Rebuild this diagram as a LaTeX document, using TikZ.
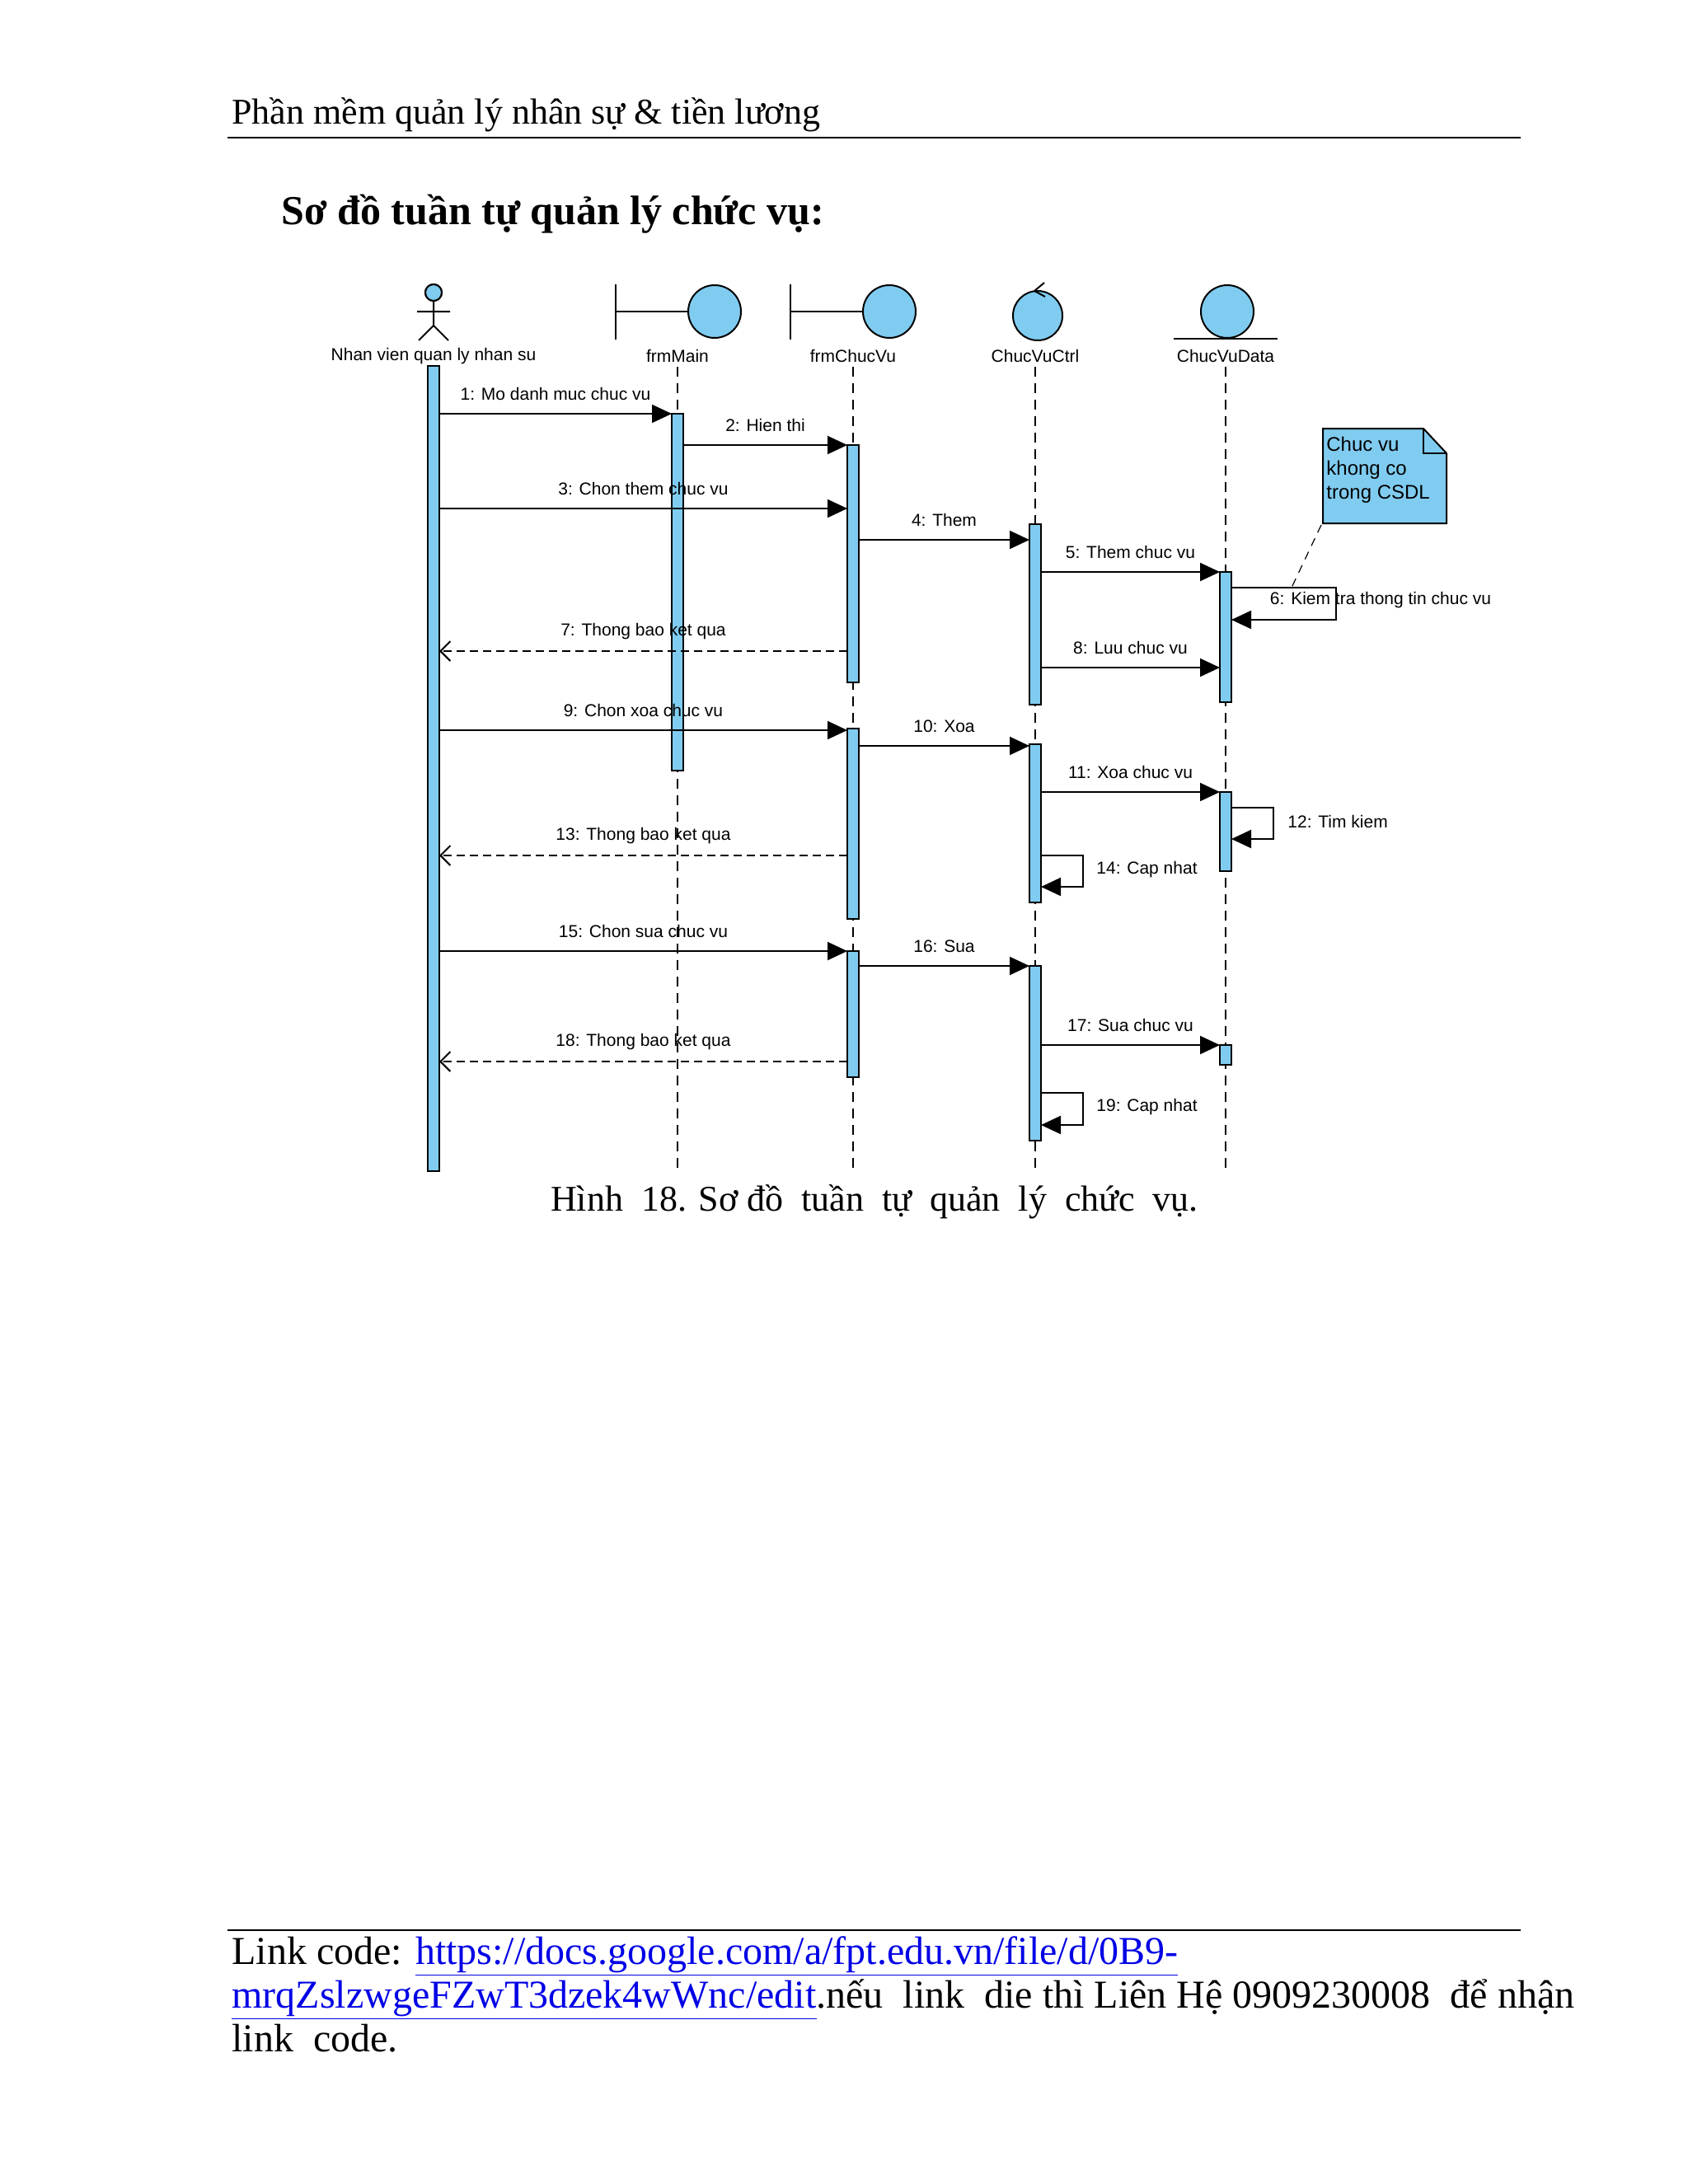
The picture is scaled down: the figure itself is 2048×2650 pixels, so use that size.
\documentclass[tikz,border=0pt]{standalone}
\usepackage{fontspec}
\setmainfont{Liberation Serif}
\newfontfamily\diag{Liberation Sans}
\usetikzlibrary{arrows.meta}
\definecolor{actc}{RGB}{128,204,240}
\definecolor{linkc}{RGB}{0,0,230}
\tikzset{
 bar/.style={draw=black,fill=actc,line width=1pt},
 life/.style={draw=black,dash pattern=on 6pt off 4pt,line width=0.6pt},
 msg/.style={draw=black,line width=1pt,-{Triangle[length=12pt,width=11pt]}},
 ret/.style={draw=black,line width=1pt,dash pattern=on 5pt off 3pt,-{Straight Barb[length=6pt,width=12pt]}},
 lbl/.style={font=\diag\fontsize{10.5}{12}\selectfont,inner sep=1pt},
 hdr/.style={font=\fontsize{22}{26}\selectfont,anchor=base west,inner sep=0pt},
 icon/.style={draw=black,fill=actc,line width=1pt}
}
\begin{document}
\begin{tikzpicture}[x=0.5pt,y=-0.5pt]
\useasboundingbox (0,0) rectangle (2048,2650);
% header
\node[hdr] (hd) at (281,150) {Phần mềm quản lý nhân sự \& tiền lương};
\draw[line width=1.2pt] (276,167) -- (1845,167);
\node[hdr,font=\bfseries\fontsize{25}{30}\selectfont] (tt) at (341,272) {Sơ đồ tuần tự quản lý chức vụ:};
% lifeline x: 526 822 1035 1256 1487
% icons
\draw[line width=1pt] (526,355) circle (10);
\draw[line width=1pt] (526,365) -- (526,395) (506,378) -- (546,378) (526,395) -- (508,413) (526,395) -- (544,413);
\fill[actc] (526,355) circle (9);
\draw[line width=1pt] (526,355) circle (10);
\draw[line width=1pt] (747,345) -- (747,412) (747,378) -- (835,378);
\draw[icon] (867,378) ellipse (32 and 32);
\draw[line width=1pt] (959,345) -- (959,412) (959,378) -- (1047,378);
\draw[icon] (1079,378) ellipse (32 and 32);
\draw[icon] (1259,383) circle (30);
\draw[line width=1pt] (1255,353) -- (1267,343) (1255,353) -- (1268,360);
\draw[icon] (1489,378) circle (32);
\draw[line width=1.2pt] (1424,411) -- (1550,411);
\foreach \x/\t in {526/Nhan vien quan ly nhan su,822/frmMain,1035/frmChucVu,1256/ChucVuCtrl,1487/ChucVuData}
  \node[lbl] at (\x,432) {\t};
% lifelines
\foreach \x in {822,1035,1256,1487} \draw[life] (\x,445) -- (\x,1423);
% bars
\draw[bar] (519,444) rectangle (533,1421);
\draw[bar] (815,502) rectangle (829,935);
\draw[bar] (1028,540) rectangle (1042,828);
\draw[bar] (1028,884) rectangle (1042,1115);
\draw[bar] (1028,1154) rectangle (1042,1307);
\draw[bar] (1249,636) rectangle (1263,855);
\draw[bar] (1249,903) rectangle (1263,1095);
\draw[bar] (1249,1172) rectangle (1263,1384);
\draw[bar] (1480,694) rectangle (1494,852);
\draw[bar] (1480,961) rectangle (1494,1057);
\draw[bar] (1480,1268) rectangle (1494,1292);
% note
\draw[black,dash pattern=on 5pt off 4pt,line width=0.6pt] (1603,637) -- (1567,713);
\draw[bar] (1605,520) -- (1727,520) -- (1755,550) -- (1755,635) -- (1605,635) -- cycle;
\draw[line width=1pt] (1727,520) -- (1727,550) -- (1755,550);
\node[lbl,anchor=north west,align=left,font=\diag\fontsize{12}{14.5}\selectfont] (note) at (1607,528) {Chuc vu\\khong co\\trong CSDL};
% messages
\newcommand\mymsg[5]{\coordinate (a#5) at (#1,#3); \coordinate (b#5) at (#2,#3);
  \draw[msg] (a#5) -- (b#5); \node[lbl] at ({(#1+#2)/2},#3-24) {#4};}
\newcommand\myret[5]{\coordinate (a#5) at (#1,#3); \coordinate (b#5) at (#2,#3);
  \draw[ret] (a#5) -- (b#5); \node[lbl] at ({(#1+#2)/2},#3-24) {#4};}
\newcommand\myself[6]{\coordinate (s#6) at (#1,#2); \coordinate (t#6) at (#1,#3);
  \draw[msg] (s#6) -- (#4,#2) -- (#4,#3) -- (t#6);}
\mymsg{533}{815}{502}{1: Mo danh muc chuc vu}{1}
\mymsg{829}{1028}{540}{2: Hien thi}{2}
\mymsg{533}{1028}{617}{3: Chon them chuc vu}{3}
\mymsg{1042}{1249}{655}{4: Them}{4}
\mymsg{1263}{1480}{694}{5: Them chuc vu}{5}
\myself{1494}{713}{752}{1621}{}{6}
\node[lbl] at (1675,728) {6: Kiem tra thong tin chuc vu};
\myret{1028}{533}{790}{7: Thong bao ket qua}{7}
\mymsg{1263}{1480}{810}{8: Luu chuc vu}{8}
\mymsg{533}{1028}{886}{9: Chon xoa chuc vu}{9}
\mymsg{1042}{1249}{905}{10: Xoa}{10}
\mymsg{1263}{1480}{961}{11: Xoa chuc vu}{11}
\myself{1494}{980}{1018}{1545}{}{12}
\node[lbl,anchor=west] at (1560,997) {12: Tim kiem};
\myret{1028}{533}{1038}{13: Thong bao ket qua}{13}
\myself{1263}{1038}{1076}{1314}{}{14}
\node[lbl,anchor=west] at (1328,1055) {14: Cap nhat};
\mymsg{533}{1028}{1154}{15: Chon sua chuc vu}{15}
\mymsg{1042}{1249}{1172}{16: Sua}{16}
\mymsg{1263}{1480}{1268}{17: Sua chuc vu}{17}
\myret{1028}{533}{1288}{18: Thong bao ket qua}{18}
\myself{1263}{1326}{1365}{1314}{}{19}
\node[lbl,anchor=west] at (1328,1343) {19: Cap nhat};
% caption
\node[font=\fontsize{22}{26}\selectfont,anchor=base] (cap) at (1061,1469) {Hình~ 18. Sơ đồ~ tuần~ tự~ quản~ lý~ chức~ vụ.};
% footer
\draw[line width=1.2pt] (276,2342) -- (1845,2342);
\node[hdr,font=\fontsize{24}{28}\selectfont] (f1) at (281,2383) {Link code: \textcolor{linkc}{\underline{https://docs.google.com/a/fpt.edu.vn/file/d/0B9-}}};
\node[hdr,font=\fontsize{24}{28}\selectfont] (f2) at (281,2436) {\textcolor{linkc}{\underline{mrqZslzwgeFZwT3dzek4wWnc/edit}}.nếu~ link~ die thì Liên Hệ 0909230008~ để nhận};
\node[hdr,font=\fontsize{24}{28}\selectfont] (f3) at (281,2489) {link~ code.};
\end{tikzpicture}
\end{document}
